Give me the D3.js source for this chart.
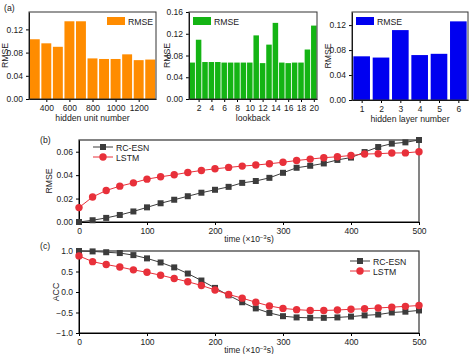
<!DOCTYPE html>
<html>
<head>
<meta charset="utf-8">
<script src="https://cdn.jsdelivr.net/npm/d3@7"></script>
<style>
  body { margin: 0; background: #fff; }
  svg { font-family: Arial, "Liberation Sans", sans-serif; }
  .tick text { font-size: 8.5px; fill: #222; }
  .lbl { font-size: 8.7px; fill: #222; }
</style>
</head>
<body>
<div id="vis"></div>
<script>
// panel (a) bar data
const hiddenUnits = [300, 400, 500, 600, 700, 800, 900, 1000, 1100, 1200, 1300];
const rmseUnits = [0.103, 0.096, 0.090, 0.134, 0.134, 0.070, 0.069, 0.069, 0.077, 0.067, 0.068];
const lookbacks = d3.range(1, 21);
const rmseLookback = [0.067, 0.109, 0.068, 0.068, 0.068, 0.067, 0.067, 0.067, 0.067, 0.067,
                      0.117, 0.066, 0.100, 0.140, 0.067, 0.066, 0.067, 0.067, 0.091, 0.135];
const layers = [1, 2, 3, 4, 5, 6];
const rmseLayers = [0.070, 0.068, 0.112, 0.072, 0.074, 0.126];

// panels (b) and (c)
const times = d3.range(0, 501, 20);
const esnRmse = [0.000, 0.0015, 0.0035, 0.006, 0.009, 0.0125, 0.016, 0.019, 0.022, 0.025,
                 0.0275, 0.030, 0.0334, 0.035, 0.0377, 0.042, 0.0463, 0.048, 0.050, 0.053,
                 0.055, 0.0597, 0.064, 0.0669, 0.068, 0.070];
const lstmRmse = [0.0123, 0.0214, 0.0269, 0.0306, 0.0334, 0.0366, 0.0386, 0.0403, 0.0423, 0.044,
                  0.0454, 0.0466, 0.0477, 0.0486, 0.0497, 0.051, 0.0525, 0.0537, 0.0549, 0.0557,
                  0.0568, 0.058, 0.0583, 0.0589, 0.059, 0.060];
const esnAcc = [1.0, 0.99, 0.97, 0.95, 0.90, 0.82, 0.72, 0.60, 0.45, 0.28,
                0.10, -0.08, -0.25, -0.40, -0.51, -0.59, -0.62, -0.63, -0.63, -0.62,
                -0.60, -0.57, -0.55, -0.50, -0.48, -0.45];
const lstmAcc = [0.88, 0.74, 0.67, 0.61, 0.54, 0.48, 0.41, 0.33, 0.25, 0.16,
                 0.05, -0.06, -0.15, -0.25, -0.34, -0.40, -0.43, -0.45, -0.45, -0.44,
                 -0.42, -0.41, -0.39, -0.37, -0.35, -0.33];

const svg = d3.select('#vis').append('svg')
  .attr('width', 474).attr('height', 354);

function barPanel(o) {
  const g = svg.append('g');
  const x = d3.scaleLinear().domain(o.xDomain).range([o.left, o.right]);
  const y = d3.scaleLinear().domain([0, o.yMax]).range([o.bottom, o.top]);
  const step = x(o.cats[1]) - x(o.cats[0]);
  const bw = step * 0.86;

  g.selectAll('rect.bar').data(o.vals).enter().append('rect')
    .attr('class', 'bar')
    .attr('x', (d, i) => x(o.cats[i]) - bw / 2)
    .attr('width', bw)
    .attr('y', d => y(d))
    .attr('height', d => y(0) - y(d))
    .attr('fill', o.color);

  g.append('g').attr('transform', 'translate(0,' + o.bottom + ')')
    .call(d3.axisBottom(x).tickValues(o.xTicks).tickFormat(d3.format('d')).tickSize(3).tickSizeOuter(0));
  g.append('g').attr('transform', 'translate(' + o.left + ',0)')
    .call(d3.axisLeft(y).tickValues(o.yTicks).tickFormat(d3.format('.2f')).tickSize(3).tickSizeOuter(0));

  g.append('rect')
    .attr('x', o.left).attr('y', o.top)
    .attr('width', o.right - o.left).attr('height', o.bottom - o.top)
    .attr('fill', 'none').attr('stroke', '#333').attr('stroke-width', 1);

  g.append('text').attr('class', 'lbl')
    .attr('x', (o.left + o.right) / 2).attr('y', o.bottom + 22)
    .attr('text-anchor', 'middle').text(o.xLabel);
  g.append('text').attr('class', 'lbl')
    .attr('transform', 'translate(' + (o.left - o.yLabOff) + ',' + ((o.top + o.bottom) / 2) + ') rotate(-90)')
    .attr('text-anchor', 'middle').text('RMSE');

  // legend
  g.append('rect').attr('x', o.legX).attr('y', o.top + 5)
    .attr('width', 18).attr('height', 8).attr('fill', o.color);
  g.append('text').attr('class', 'lbl')
    .attr('x', o.legX + 21).attr('y', o.top + 12.5).text('RMSE');
}

barPanel({
  cats: hiddenUnits, vals: rmseUnits, color: '#ff8c00',
  xDomain: [250, 1350], xTicks: [400, 600, 800, 1000, 1200],
  yMax: 0.15, yTicks: [0, 0.04, 0.08, 0.12],
  left: 29, right: 156, top: 12, bottom: 99, legX: 107, yLabOff: 21,
  xLabel: 'hidden unit number'
});
barPanel({
  cats: lookbacks, vals: rmseLookback, color: '#14b414',
  xDomain: [0.5, 20.5], xTicks: d3.range(2, 21, 2),
  yMax: 0.16, yTicks: [0, 0.04, 0.08, 0.12, 0.16],
  left: 189, right: 317, top: 12, bottom: 99, legX: 193, yLabOff: 19,
  xLabel: 'lookback'
});
barPanel({
  cats: layers, vals: rmseLayers, color: '#0000f0',
  xDomain: [0.5, 6.5], xTicks: layers,
  yMax: 0.141, yTicks: [0, 0.04, 0.08, 0.12],
  left: 352, right: 468, top: 12, bottom: 100, legX: 356, yLabOff: 21,
  xLabel: 'hidden layer number'
});

function linePanel(o) {
  const g = svg.append('g');
  const x = d3.scaleLinear().domain([0, 500]).range([o.left, o.right]);
  const y = d3.scaleLinear().domain(o.yDomain).range([o.bottom, o.top]);

  g.append('rect')
    .attr('x', o.left).attr('y', o.top)
    .attr('width', o.right - o.left).attr('height', o.bottom - o.top)
    .attr('fill', 'none').attr('stroke', '#333').attr('stroke-width', 1.2);

  g.append('g').attr('transform', 'translate(0,' + o.bottom + ')')
    .call(d3.axisBottom(x).tickValues([0, 100, 200, 300, 400, 500]).tickSize(3).tickSizeOuter(0));
  g.append('g').attr('transform', 'translate(' + o.left + ',0)')
    .call(d3.axisLeft(y).tickValues(o.yTicks).tickFormat(d3.format(o.fmt)).tickSize(3).tickSizeOuter(0));

  const line = d3.line().x((d, i) => x(times[i])).y(d => y(d));
  const series = [
    { vals: o.esn, color: '#3c3c3c', shape: 'sq' },
    { vals: o.lstm, color: '#e8303a', shape: 'ci' }
  ];
  series.forEach(s => {
    g.append('path').datum(s.vals).attr('d', line)
      .attr('fill', 'none').attr('stroke', s.color).attr('stroke-width', 1);
    const pts = g.selectAll(null).data(s.vals).enter();
    if (s.shape === 'sq') {
      pts.append('rect')
        .attr('x', (d, i) => x(times[i]) - 3).attr('y', d => y(d) - 3)
        .attr('width', 6).attr('height', 6).attr('fill', s.color);
    } else {
      pts.append('circle')
        .attr('cx', (d, i) => x(times[i])).attr('cy', d => y(d))
        .attr('r', 3.7).attr('fill', s.color);
    }
  });

  // legend
  series.forEach((s, i) => {
    const ly = o.legY + i * 10;
    g.append('line').attr('x1', o.legX).attr('x2', o.legX + 20)
      .attr('y1', ly).attr('y2', ly).attr('stroke', s.color);
    if (s.shape === 'sq') {
      g.append('rect').attr('x', o.legX + 7).attr('y', ly - 3)
        .attr('width', 6).attr('height', 6).attr('fill', s.color);
    } else {
      g.append('circle').attr('cx', o.legX + 10).attr('cy', ly)
        .attr('r', 3.7).attr('fill', s.color);
    }
    g.append('text').attr('class', 'lbl')
      .attr('x', o.legX + 23).attr('y', ly + 3.5)
      .text(i === 0 ? 'RC-ESN' : 'LSTM');
  });

  const t = g.append('text').attr('class', 'lbl')
    .attr('x', (o.left + o.right) / 2).attr('y', o.bottom + 20)
    .attr('text-anchor', 'middle').style('font-size', '8.5px');
  t.append('tspan').text('time (×10');
  t.append('tspan').attr('dy', -3.5).style('font-size', '6px').text('−3');
  t.append('tspan').attr('dy', 3.5).text('s)');

  g.append('text').attr('class', 'lbl')
    .attr('transform', 'translate(' + (o.left - o.yLabOff) + ',' + ((o.top + o.bottom) / 2) + ') rotate(-90)')
    .attr('text-anchor', 'middle').text(o.yLabel);
}

linePanel({
  esn: esnRmse, lstm: lstmRmse,
  yDomain: [0, 0.07], yTicks: [0, 0.02, 0.04, 0.06], fmt: '.2f',
  left: 79, right: 419, top: 140, bottom: 222,
  legX: 93, legY: 147, yLabel: 'RMSE', yLabOff: 27
});
linePanel({
  esn: esnAcc, lstm: lstmAcc,
  yDomain: [-1, 1], yTicks: [-1, -0.5, 0, 0.5, 1], fmt: '.1f',
  left: 79, right: 419, top: 251, bottom: 333,
  legX: 350, legY: 261, yLabel: 'ACC', yLabOff: 20
});

svg.append('text').attr('class', 'lbl').attr('x', 4).attr('y', 11).text('(a)');
svg.append('text').attr('class', 'lbl').attr('x', 40).attr('y', 143).text('(b)');
svg.append('text').attr('class', 'lbl').attr('x', 40).attr('y', 249).text('(c)');
</script>
</body>
</html>
